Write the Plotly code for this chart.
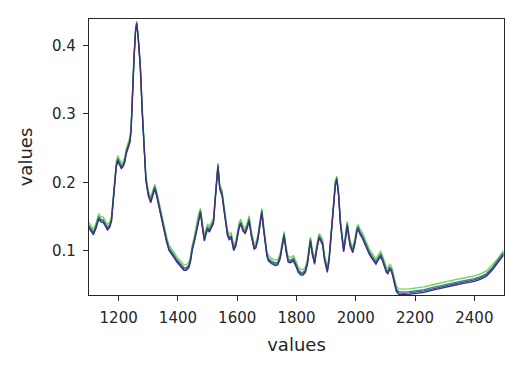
import plotly.graph_objects as go

wavelength = [1100, 1108, 1115, 1124, 1133, 1140, 1148, 1155, 1162, 1170, 1176, 1185, 1192, 1197, 1203, 1209, 1215, 1220, 1226, 1232, 1238, 1242, 1246, 1252, 1257, 1261, 1266, 1273, 1280, 1286, 1292, 1300, 1308, 1315, 1322, 1329, 1336, 1345, 1353, 1362, 1370, 1378, 1386, 1395, 1403, 1412, 1420, 1428, 1437, 1443, 1448, 1455, 1461, 1468, 1476, 1482, 1489, 1495, 1500, 1506, 1512, 1520, 1527, 1535, 1541, 1549, 1555, 1560, 1567, 1573, 1580, 1588, 1595, 1601, 1607, 1612, 1620, 1627, 1634, 1640, 1648, 1657, 1663, 1669, 1676, 1683, 1689, 1694, 1700, 1705, 1715, 1728, 1737, 1745, 1752, 1758, 1765, 1772, 1780, 1789, 1797, 1806, 1815, 1822, 1830, 1837, 1843, 1847, 1853, 1861, 1868, 1876, 1882, 1888, 1895, 1904, 1910, 1917, 1925, 1931, 1936, 1942, 1948, 1954, 1959, 1965, 1971, 1976, 1981, 1990, 1997, 2004, 2008, 2014, 2021, 2030, 2037, 2045, 2052, 2060, 2068, 2077, 2084, 2090, 2096, 2103, 2108, 2114, 2119, 2124, 2130, 2137, 2145, 2160, 2180, 2200, 2230, 2260, 2280, 2290, 2300, 2320, 2340, 2360, 2380, 2400, 2420, 2440, 2460, 2480, 2498]

sample_purple = [.133, .128, .123, .133, .146, .142, .141, .136, .130, .134, .143, .188, .222, .231, .224, .220, .223, .228, .242, .250, .258, .275, .322, .381, .420, .432, .410, .368, .298, .240, .202, .180, .170, .180, .190, .178, .163, .143, .128, .112, .100, .094, .090, .084, .080, .075, .071, .071, .075, .085, .100, .112, .125, .143, .155, .135, .114, .124, .131, .127, .132, .140, .180, .222, .190, .180, .160, .142, .122, .116, .118, .100, .106, .120, .134, .138, .128, .125, .133, .143, .120, .102, .104, .114, .138, .155, .130, .110, .092, .085, .081, .078, .079, .088, .105, .121, .098, .083, .082, .085, .078, .068, .064, .064, .068, .080, .100, .113, .095, .080, .100, .118, .114, .108, .085, .068, .085, .124, .165, .195, .203, .180, .139, .110, .098, .115, .136, .120, .106, .097, .110, .128, .131, .124, .119, .110, .102, .095, .090, .085, .080, .087, .091, .085, .078, .068, .066, .072, .070, .064, .052, .040, .0360, .0355, .0360, .0368, .0390, .0420, .0440, .0460, .0465, .0480, .0500, .0515, .0530, .0550, .0580, .0620, .0710, .0820, .0930]

sample_blue = [.135, .130, .125, .135, .148, .144, .143, .138, .132, .136, .145, .190, .224, .233, .226, .222, .225, .230, .244, .252, .260, .277, .324, .383, .421, .433, .411, .370, .300, .242, .204, .182, .172, .182, .192, .180, .165, .145, .130, .114, .102, .096, .092, .086, .082, .077, .073, .073, .077, .087, .102, .114, .127, .145, .157, .137, .116, .126, .133, .129, .134, .142, .182, .224, .192, .182, .162, .144, .124, .118, .120, .102, .108, .122, .136, .140, .130, .127, .135, .145, .122, .104, .106, .116, .140, .157, .132, .112, .094, .087, .083, .080, .081, .090, .107, .123, .100, .085, .084, .087, .080, .070, .066, .066, .070, .082, .102, .115, .097, .082, .102, .120, .116, .110, .087, .070, .087, .126, .167, .197, .205, .182, .141, .112, .100, .117, .138, .122, .108, .099, .112, .130, .133, .126, .121, .112, .104, .097, .092, .087, .082, .089, .093, .087, .080, .070, .068, .074, .072, .066, .054, .042, .0380, .0375, .0380, .0388, .0410, .0440, .0460, .0480, .0485, .0500, .0520, .0535, .0550, .0570, .0600, .0640, .0730, .0840, .0950]

sample_teal = [.137, .132, .127, .137, .150, .146, .145, .140, .134, .138, .147, .192, .226, .235, .228, .224, .227, .232, .246, .254, .262, .279, .326, .385, .423, .434, .413, .372, .302, .244, .206, .184, .174, .184, .194, .182, .167, .147, .132, .116, .104, .098, .094, .088, .084, .079, .075, .075, .079, .089, .104, .116, .129, .147, .159, .139, .118, .128, .135, .131, .136, .144, .184, .226, .194, .184, .164, .146, .126, .120, .122, .104, .110, .124, .138, .142, .132, .129, .137, .147, .124, .106, .108, .118, .142, .159, .134, .114, .096, .089, .085, .082, .083, .092, .109, .125, .102, .087, .086, .089, .082, .072, .068, .068, .072, .084, .104, .117, .099, .084, .104, .122, .118, .112, .089, .072, .089, .128, .169, .199, .207, .184, .143, .114, .102, .119, .140, .124, .110, .101, .114, .132, .135, .128, .123, .114, .106, .099, .094, .089, .084, .091, .095, .089, .082, .072, .070, .076, .074, .068, .056, .044, .0400, .0395, .0400, .0408, .0430, .0460, .0480, .0500, .0505, .0520, .0540, .0555, .0570, .0590, .0620, .0660, .0750, .0860, .0970]

sample_green = [.141, .136, .131, .141, .154, .150, .149, .144, .138, .142, .151, .196, .230, .239, .232, .228, .231, .236, .250, .258, .266, .283, .330, .388, .425, .436, .415, .375, .306, .248, .210, .188, .178, .188, .197, .186, .171, .151, .136, .120, .108, .102, .098, .092, .088, .083, .079, .079, .083, .093, .108, .120, .133, .151, .162, .143, .122, .132, .139, .135, .140, .148, .187, .228, .197, .188, .168, .150, .130, .124, .126, .108, .114, .128, .142, .146, .136, .133, .141, .151, .128, .110, .112, .122, .146, .162, .138, .118, .100, .093, .089, .086, .087, .096, .113, .128, .106, .091, .090, .093, .086, .076, .072, .072, .076, .088, .108, .120, .103, .088, .108, .125, .122, .116, .093, .076, .093, .132, .173, .202, .209, .187, .147, .118, .106, .123, .143, .128, .114, .105, .118, .136, .138, .132, .127, .118, .110, .103, .098, .093, .088, .095, .099, .093, .086, .076, .074, .080, .078, .072, .060, .048, .0440, .0435, .0440, .0448, .0470, .0500, .0520, .0540, .0545, .0560, .0580, .0595, .0610, .0630, .0660, .0700, .0790, .0890, .1000]

series = [
    ("green", sample_green, "#7ad151"),
    ("teal", sample_teal, "#21918c"),
    ("blue", sample_blue, "#3b528b"),
    ("purple", sample_purple, "#472d7b"),
]

x_ticks = [1200, 1400, 1600, 1800, 2000, 2200, 2400]
y_ticks = [0.1, 0.2, 0.3, 0.4]

fig = go.Figure()
for name, vals, col in series:
    fig.add_trace(go.Scatter(x=wavelength, y=vals, mode="lines", name=name,
                             line=dict(color=col, width=1.3), showlegend=False))

axis_common = dict(showgrid=False, zeroline=False, showline=True, linecolor="#262626",
                   linewidth=1.3, mirror=True, ticks="outside", ticklen=5, tickwidth=1.2,
                   tickcolor="#262626", ticklabelstandoff=4,
                   tickfont=dict(family="DejaVu Sans", size=15, color="#262626"))

fig.update_layout(
    width=525, height=375,
    margin=dict(l=89, r=21, t=19, b=80),
    paper_bgcolor="white", plot_bgcolor="white",
    font=dict(family="DejaVu Sans", color="#262626"),
    xaxis=dict(range=[1100, 2500], tickvals=x_ticks, ticktext=[str(v) for v in x_ticks],
               title=dict(text="values", font=dict(size=18), standoff=12), **axis_common),
    yaxis=dict(range=[0.035, 0.439], tickvals=y_ticks, ticktext=[str(v) for v in y_ticks],
               title=dict(text="values", font=dict(size=18), standoff=14), **axis_common),
)

fig.write_html("out.html")
